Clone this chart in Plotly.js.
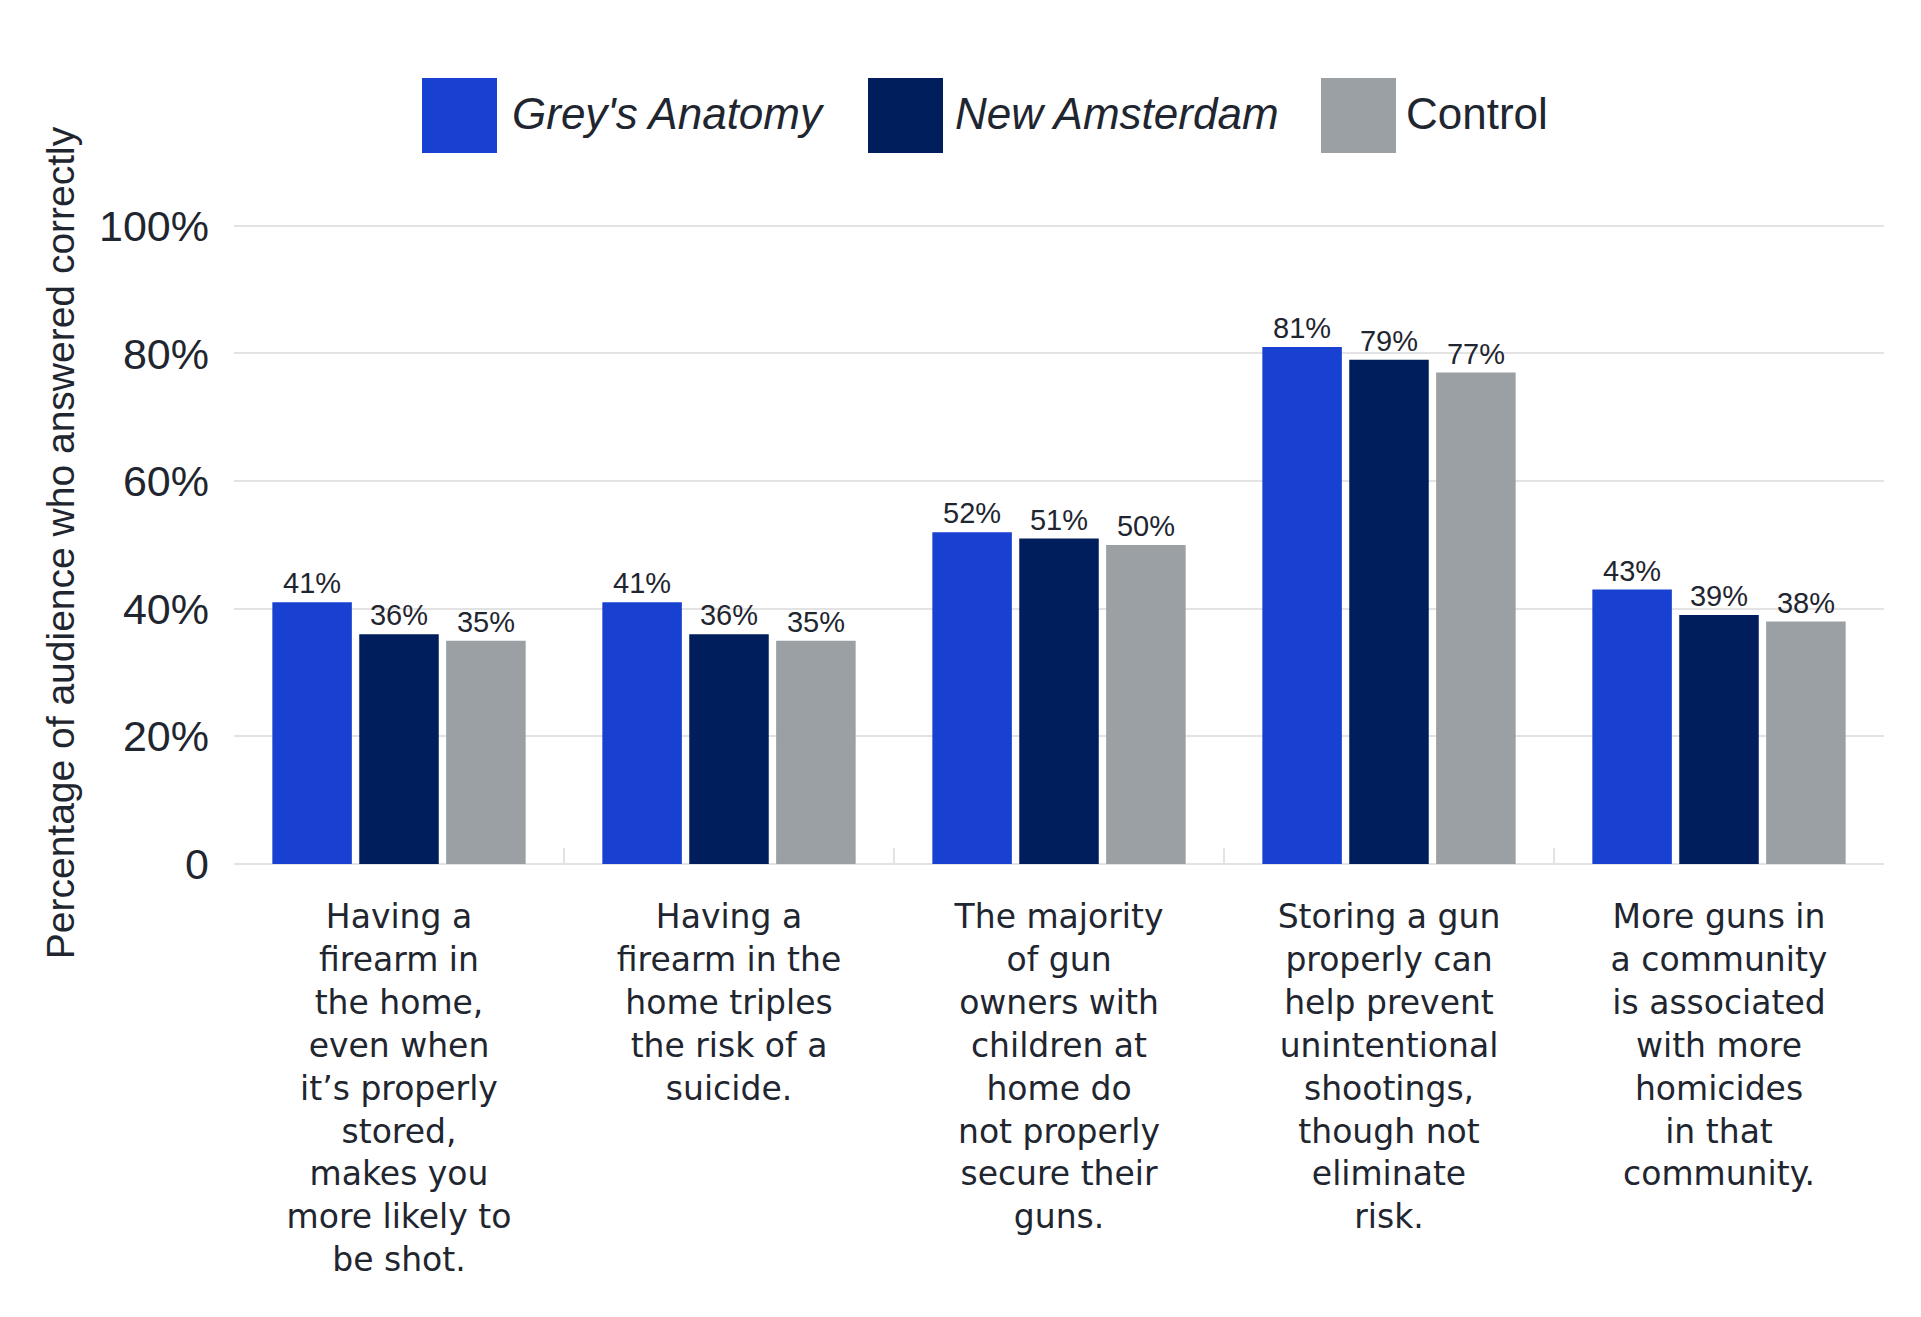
<!DOCTYPE html>
<html>
<head>
<meta charset="utf-8">
<script src="https://cdn.plot.ly/plotly-3.0.1.min.js"></script>
<style>
  html, body { margin: 0; padding: 0; background: #ffffff; }
  #chart { width: 1921px; height: 1317px; }
</style>
</head>
<body>
<div id="chart"></div>
<script>
const CHART = document.getElementById('chart');

// --- data ---
const categories = [
    'Having a<br>firearm in<br>the home,<br>even when<br>it’s properly<br>stored,<br>makes you<br>more likely to<br>be shot.',
    'Having a<br>firearm in the<br>home triples<br>the risk of a<br>suicide.',
    'The majority<br>of gun<br>owners with<br>children at<br>home do<br>not properly<br>secure their<br>guns.',
    'Storing a gun<br>properly can<br>help prevent<br>unintentional<br>shootings,<br>though not<br>eliminate<br>risk.',
    'More guns in<br>a community<br>is associated<br>with more<br>homicides<br>in that<br>community.'
];
const series_names = ["Grey's Anatomy", 'New Amsterdam', 'Control'];
const greys_anatomy = [41, 41, 52, 81, 43];
const new_amsterdam = [36, 36, 51, 79, 39];
const control = [35, 35, 50, 77, 38];
const y_tick_vals = [0, 20, 40, 60, 80, 100];
const y_tick_text = ['0', '20%', '40%', '60%', '80%', '100%'];

const COLORS = ['#1841d1', '#011e5c', '#9aa0a3'];
const ITALIC = [true, true, false];
const TEXT = '#1f2630';
const GRID = '#e3e3e3';
const FONT = '"Liberation Sans", Arial, sans-serif';
const WIDE_FONT = '"DejaVu Sans", "Liberation Sans", sans-serif';

// plot area in pixels, used to place the hand-built legend
const M = { l: 234, r: 37, t: 222, b: 453 };
const W = 1921, H = 1317;
const PW = W - M.l - M.r, PH = H - M.t - M.b;
const px = (x) => (x - M.l) / PW;
const py = (y) => (H - M.b - y) / PH;

function bar_trace(name, values, color) {
    return {
        type: 'bar',
        name: name,
        x: categories,
        y: values,
        marker: { color: color },
        text: values.map(v => v + '%'),
        textposition: 'outside',
        cliponaxis: false,
        textfont: { family: FONT, size: 29, color: TEXT },
        hoverinfo: 'skip'
    };
}

const traces = [
    bar_trace(series_names[0], greys_anatomy, COLORS[0]),
    bar_trace(series_names[1], new_amsterdam, COLORS[1]),
    bar_trace(series_names[2], control, COLORS[2])
];

// big square legend (plotly's own swatches can't be this large)
const legend_boxes = [[422, 497, 510], [868, 943, 953], [1321, 1396, 1404]];
const shapes = [];
const annotations = [];
series_names.forEach((name, i) => {
    const [x0, x1, tx] = legend_boxes[i];
    shapes.push({
        type: 'rect', xref: 'paper', yref: 'paper',
        x0: px(x0), x1: px(x1), y0: py(153), y1: py(78),
        fillcolor: COLORS[i], line: { width: 0 }
    });
    annotations.push({
        xref: 'paper', yref: 'paper', x: px(tx), y: py(113),
        xanchor: 'left', yanchor: 'middle', showarrow: false,
        text: name,
        font: { family: FONT, size: 44, color: TEXT, style: ITALIC[i] ? 'italic' : 'normal' }
    });
});

const layout = {
    width: W,
    height: H,
    margin: M,
    paper_bgcolor: '#ffffff',
    plot_bgcolor: '#ffffff',
    font: { family: FONT, color: TEXT },
    showlegend: false,
    barmode: 'group',
    bargap: 0.21,
    bargroupgap: 0.085,
    xaxis: {
        type: 'category',
        tickson: 'boundaries',
        ticks: 'inside',
        ticklen: 16,
        tickwidth: 2,
        tickcolor: GRID,
        showgrid: false,
        showline: false,
        ticklabelstandoff: 30,
        tickfont: { family: WIDE_FONT, size: 33, color: TEXT },
        fixedrange: true
    },
    yaxis: {
        range: [0, 100.6],
        tickvals: y_tick_vals,
        ticktext: y_tick_text,
        showgrid: true,
        gridcolor: GRID,
        gridwidth: 2,
        zeroline: true,
        zerolinecolor: GRID,
        zerolinewidth: 2,
        ticks: '',
        ticklabelstandoff: 24,
        tickfont: { family: FONT, size: 43, color: TEXT },
        title: {
            text: 'Percentage of audience who answered correctly',
            font: { family: FONT, size: 39, color: TEXT },
            standoff: 12
        },
        fixedrange: true
    },
    shapes: shapes,
    annotations: annotations
};

const config = { displayModeBar: false, staticPlot: true };

Plotly.newPlot(CHART, traces, layout, config);
</script>
</body>
</html>
